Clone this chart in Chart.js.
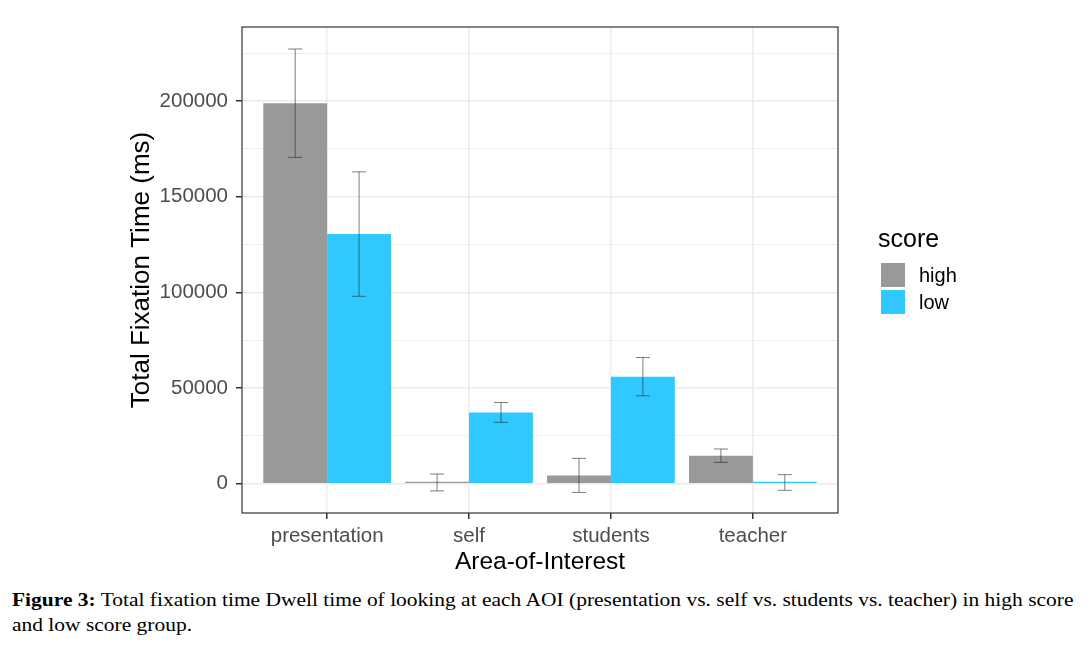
<!DOCTYPE html>
<html>
<head>
<meta charset="utf-8">
<script src="https://cdn.jsdelivr.net/npm/chart.js@4/dist/chart.umd.min.js"></script>
<style>
  html, body { margin: 0; padding: 0; background: #fff; }
  #wrap { position: relative; width: 1087px; height: 645px; overflow: hidden; }
  #chart { position: absolute; left: 0; top: 0; }
  #caption {
    position: absolute; left: 12px; top: 587px;
    font-family: "Liberation Serif", "Times New Roman", serif;
    font-size: 19px; line-height: 25px; color: #000; white-space: nowrap;
    transform: scaleX(1.13); transform-origin: left top;
  }
</style>
</head>
<body>
<div id="wrap">
  <canvas id="chart" width="1087" height="580"></canvas>
  <div id="caption"><b>Figure 3:</b> Total fixation time Dwell time of looking at each AOI (presentation vs. self vs. students vs. teacher) in high score<br>and low score group.</div>
</div>
<script>
// data
const categories = ['presentation', 'self', 'students', 'teacher'];
const highMean = [198900, 700, 4400, 14700];
const highErr = [28300, 4400, 8900, 3500];
const lowMean = [130500, 37300, 56000, 700];
const lowErr = [32500, 5150, 10000, 4100];
const yTicks = [0, 25000, 50000, 75000, 100000, 125000, 150000, 175000, 200000, 225000];

const grey = '#999999';
const blue = '#30C9FF';
const tickGrey = '#4D4D4D';
const isMajor = v => v % 50000 === 0;

// error bars on top of the bars
const errorBars = {
  id: 'errorBars',
  afterDatasetsDraw(chart) {
    const ctx = chart.ctx;
    const y = chart.scales.y;
    const errs = [highErr, lowErr];
    ctx.save();
    ctx.strokeStyle = 'rgba(40,40,40,0.6)';
    ctx.lineWidth = 1;
    chart.data.datasets.forEach((ds, di) => {
      const meta = chart.getDatasetMeta(di);
      meta.data.forEach((bar, i) => {
        const m = ds.data[i].y;
        const e = errs[di][i];
        const x = bar.x;
        const top = y.getPixelForValue(m + e);
        const bot = y.getPixelForValue(m - e);
        const half = 7;
        ctx.beginPath();
        ctx.moveTo(x, top); ctx.lineTo(x, bot);
        ctx.moveTo(x - half, top); ctx.lineTo(x + half, top);
        ctx.moveTo(x - half, bot); ctx.lineTo(x + half, bot);
        ctx.stroke();
      });
    });
    ctx.restore();
  }
};

// panel border + legend on the right
const panelAndLegend = {
  id: 'panelAndLegend',
  afterDraw(chart) {
    const ctx = chart.ctx;
    const a = chart.chartArea;
    ctx.save();
    ctx.strokeStyle = '#333333';
    ctx.lineWidth = 1.2;
    ctx.strokeRect(a.left, a.top, a.right - a.left, a.bottom - a.top);

    ctx.fillStyle = '#000';
    ctx.font = '25px "Liberation Sans", Arial, sans-serif';
    ctx.textBaseline = 'middle';
    ctx.textAlign = 'left';
    ctx.fillText('score', 878, 240);

    const keys = [['high', grey], ['low', blue]];
    keys.forEach((k, i) => {
      const top = 263 + i * 27;
      ctx.fillStyle = k[1];
      ctx.fillRect(881, top, 24, 24);
      ctx.fillStyle = '#000';
      ctx.font = '20px "Liberation Sans", Arial, sans-serif';
      ctx.fillText(k[0], 919, top + 13);
    });
    ctx.restore();
  }
};

new Chart(document.getElementById('chart'), {
  type: 'bar',
  data: {
    datasets: [
      { label: 'high', data: highMean.map((v, i) => ({ x: i, y: v })), backgroundColor: grey,
        categoryPercentage: 0.9, barPercentage: 1.0, minBarLength: 2 },
      { label: 'low', data: lowMean.map((v, i) => ({ x: i, y: v })), backgroundColor: blue,
        categoryPercentage: 0.9, barPercentage: 1.0, minBarLength: 2 }
    ]
  },
  options: {
    responsive: false,
    animation: false,
    layout: { padding: { left: 0, right: 249, top: 27, bottom: 0 } },
    plugins: { legend: { display: false }, tooltip: { enabled: false } },
    scales: {
      x: {
        type: 'linear',
        min: -0.6,
        max: 3.6,
        offset: false,
        afterBuildTicks: s => { s.ticks = categories.map((c, i) => ({ value: i })); },
        afterFit: s => { s.height = 67; },
        ticks: {
          callback: v => categories[v],
          color: tickGrey,
          font: { family: '"Liberation Sans", Arial, sans-serif', size: 20.5 },
          padding: 5,
          maxRotation: 0,
          autoSkip: false
        },
        grid: { offset: false, color: '#EBEBEB', lineWidth: 1.5, tickColor: '#333333', tickLength: 6 },
        border: { display: false },
        title: {
          display: true, text: 'Area-of-Interest', color: '#000',
          font: { family: '"Liberation Sans", Arial, sans-serif', size: 24.5 },
          padding: { top: 0, bottom: 3 }
        }
      },
      y: {
        min: -15250,
        max: 238700,
        afterBuildTicks: s => { s.ticks = yTicks.map(v => ({ value: v })); },
        afterFit: s => { s.width = 242; },
        ticks: {
          callback: v => isMajor(v) ? String(v) : '',
          color: tickGrey,
          font: { family: '"Liberation Sans", Arial, sans-serif', size: 20.5 },
          padding: 8
        },
        grid: {
          color: '#EBEBEB',
          lineWidth: c => (c.tick && isMajor(c.tick.value)) ? 1.5 : 0.8,
          tickColor: c => (c.tick && isMajor(c.tick.value)) ? '#333333' : 'rgba(0,0,0,0)',
          tickLength: 6
        },
        border: { display: false },
        title: {
          display: true, text: 'Total Fixation Time (ms)', color: '#000',
          font: { family: '"Liberation Sans", Arial, sans-serif', size: 26 },
          padding: { top: 126, bottom: 0 }
        }
      }
    }
  },
  plugins: [errorBars, panelAndLegend]
});
</script>
</body>
</html>
